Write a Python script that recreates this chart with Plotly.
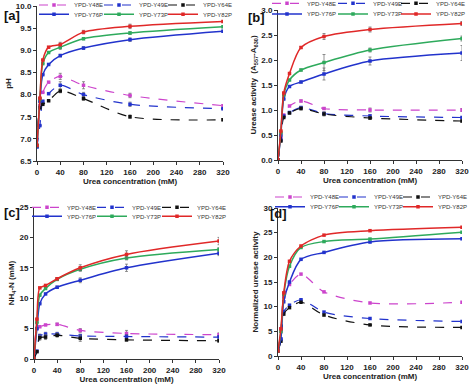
import plotly.graph_objects as go

urea_mM = [0, 5, 10, 20, 40, 80, 160, 320]
x_ticks = [0, 40, 80, 120, 160, 200, 240, 280, 320]
series_names = ["YPD-Y48E", "YPD-Y49E", "YPD-Y64E", "YPD-Y76P", "YPD-Y73P", "YPD-Y82P"]

# Panel a: pH
ph_Y48E = [6.85, 7.75, 8.05, 8.28, 8.41, 8.21, 7.98, 7.75]
ph_Y49E = [6.82, 7.30, 7.85, 8.02, 8.21, 8.00, 7.78, 7.68]
ph_Y64E = [6.85, 7.70, 7.78, 7.86, 8.08, 7.91, 7.50, 7.43]
ph_Y76P = [6.82, 7.85, 8.45, 8.68, 8.88, 9.05, 9.24, 9.43]
ph_Y73P = [6.85, 7.90, 8.70, 8.95, 9.07, 9.26, 9.39, 9.53]
ph_Y82P = [6.85, 7.92, 8.78, 9.07, 9.13, 9.41, 9.54, 9.65]
ph_err_Y48E = [0, 0, 0, 0, 0.07, 0.08, 0.05, 0.02]
ph_err_Y49E = [0, 0, 0, 0, 0.08, 0.05, 0.05, 0.02]
ph_err_Y64E = [0, 0, 0, 0, 0.04, 0.04, 0.04, 0.02]
ph_err_Y76P = [0, 0, 0, 0, 0.03, 0.03, 0.04, 0.02]
ph_err_Y73P = [0, 0, 0, 0, 0.05, 0.02, 0.03, 0.02]
ph_err_Y82P = [0, 0, 0, 0, 0.05, 0.04, 0.05, 0.02]

# Panel b: urease activity (A557-A630)
ua_Y48E = [0.0, 0.45, 0.90, 1.08, 1.18, 1.03, 1.00, 1.00]
ua_Y49E = [0.0, 0.40, 0.88, 0.95, 1.05, 0.93, 0.88, 0.85]
ua_Y64E = [0.0, 0.38, 0.85, 0.94, 1.03, 0.92, 0.84, 0.78]
ua_Y76P = [0.0, 0.50, 1.22, 1.47, 1.56, 1.72, 1.98, 2.14]
ua_Y73P = [0.0, 0.55, 1.30, 1.60, 1.80, 1.95, 2.20, 2.43]
ua_Y82P = [0.0, 0.58, 1.34, 1.73, 2.25, 2.47, 2.61, 2.73]
ua_err_Y48E = [0, 0, 0, 0, 0.02, 0.02, 0.04, 0.03]
ua_err_Y49E = [0, 0, 0, 0, 0.02, 0.03, 0.03, 0.02]
ua_err_Y64E = [0, 0, 0, 0, 0.03, 0.04, 0.03, 0.02]
ua_err_Y76P = [0, 0, 0, 0, 0.02, 0.12, 0.08, 0.15]
ua_err_Y73P = [0, 0, 0, 0, 0.02, 0.16, 0.04, 0.05]
ua_err_Y82P = [0, 0, 0, 0, 0.02, 0.06, 0.05, 0.04]

# Panel c: NH4-N (mM)
nh_Y48E = [0.0, 5.0, 5.3, 5.6, 5.7, 4.7, 4.2, 4.0]
nh_Y49E = [0.0, 1.3, 3.8, 4.1, 4.1, 3.8, 3.7, 3.6]
nh_Y64E = [0.0, 1.2, 3.5, 3.6, 3.9, 3.4, 3.15, 3.0]
nh_Y76P = [0.0, 5.0, 9.1, 10.7, 11.8, 12.95, 15.0, 17.4]
nh_Y73P = [0.0, 6.0, 10.5, 11.6, 13.1, 14.75, 16.6, 18.0]
nh_Y82P = [0.0, 6.55, 11.7, 12.1, 13.2, 15.0, 17.2, 19.4]
nh_err_Y48E = [0, 0, 0, 0, 0.2, 0.3, 0.5, 0.3]
nh_err_Y49E = [0, 0, 0.3, 0.3, 0.3, 0.3, 0.3, 0.2]
nh_err_Y64E = [0, 0, 0.4, 0.4, 0.3, 0.5, 0.2, 0.2]
nh_err_Y76P = [0, 0, 0, 0, 0.2, 0.4, 0.6, 0.4]
nh_err_Y73P = [0, 0, 0, 0, 0.2, 0.3, 0.3, 0.3]
nh_err_Y82P = [0, 0, 0, 0, 0.2, 0.5, 0.6, 0.6]

# Panel d: normalized urease activity
nu_Y48E = [1.0, 5.5, 12.0, 14.5, 16.6, 13.0, 10.75, 10.9]
nu_Y49E = [1.0, 3.3, 9.0, 10.3, 11.4, 8.9, 7.6, 7.0]
nu_Y64E = [1.0, 3.0, 8.5, 9.8, 10.9, 8.3, 6.3, 5.8]
nu_Y76P = [1.0, 3.5, 11.0, 15.0, 19.6, 21.0, 23.1, 23.75]
nu_Y73P = [1.0, 5.0, 12.5, 18.2, 22.0, 23.2, 23.7, 25.1]
nu_Y82P = [1.0, 5.5, 12.8, 19.2, 22.3, 24.5, 25.4, 26.1]

colors = ["#CC44CC", "#2233CC", "#111111", "#2233CC", "#2EAA5C", "#E02828"]
dashes = ["dash", "dash", "dash", "solid", "solid", "solid"]
widths = [1.2, 1.2, 1.2, 1.5, 1.5, 1.5]
rows = [0, 0, 0, 1, 1, 1]
cols = [0, 1, 2, 0, 1, 2]

W, H = 474, 384
panels = [
    dict(key="a", vals=[ph_Y48E, ph_Y49E, ph_Y64E, ph_Y76P, ph_Y73P, ph_Y82P],
         errs=[ph_err_Y48E, ph_err_Y49E, ph_err_Y64E, ph_err_Y76P, ph_err_Y73P, ph_err_Y82P],
         yrange=[6.5, 10], dtick=0.5, fmt=".1f", ytitle="pH",
         px=(37, 223), py=(6, 161), leg_tx=(72, 137, 201), leg_y=(5, 14.3), lab=(2, 6)),
    dict(key="b", vals=[ua_Y48E, ua_Y49E, ua_Y64E, ua_Y76P, ua_Y73P, ua_Y82P],
         errs=[ua_err_Y48E, ua_err_Y49E, ua_err_Y64E, ua_err_Y76P, ua_err_Y73P, ua_err_Y82P],
         yrange=[0, 3], dtick=0.5, fmt=".1f",
         ytitle="Urease activity  (A<sub>557</sub>-A<sub>630</sub>)",
         px=(278, 462), py=(10, 160), leg_tx=(305, 371, 434), leg_y=(3.3, 14), lab=(246, 8)),
    dict(key="c", vals=[nh_Y48E, nh_Y49E, nh_Y64E, nh_Y76P, nh_Y73P, nh_Y82P],
         errs=[nh_err_Y48E, nh_err_Y49E, nh_err_Y64E, nh_err_Y76P, nh_err_Y73P, nh_err_Y82P],
         yrange=[0, 25], dtick=5, fmt="d", ytitle="NH<sub>4</sub>-N (mM)",
         px=(34, 219), py=(207, 359), leg_tx=(65, 130, 195), leg_y=(207.3, 216.3), lab=(2, 203)),
    dict(key="d", vals=[nu_Y48E, nu_Y49E, nu_Y64E, nu_Y76P, nu_Y73P, nu_Y82P],
         errs=None,
         yrange=[0, 30], dtick=5, fmt="d", ytitle="Normalized urease activity",
         px=(278, 462), py=(208, 356), leg_tx=(308, 372, 436), leg_y=(197, 206.7), lab=(268, 204)),
]

fig = go.Figure()
layout = dict(width=W, height=H, margin=dict(l=0, r=0, t=0, b=0, autoexpand=False),
              paper_bgcolor="white", plot_bgcolor="white", annotations=[], showlegend=True)
font_t = dict(family="Liberation Sans", size=8, color="#222", weight="bold")

leg_count = 0
for i, p in enumerate(panels):
    n = "" if i == 0 else str(i + 1)
    xa, ya = "x" + n, "y" + n
    for j, name in enumerate(series_names):
        leg_count += 1
        lid = "legend" if leg_count == 1 else "legend" + str(leg_count)
        layout[lid] = dict(orientation="h", x=(p["leg_tx"][cols[j]] - 38) / W,
                           y=1 - (p["leg_y"][rows[j]] - 14.5) / H,
                           xanchor="left", yanchor="top", itemwidth=30,
                           font=dict(family="Liberation Sans", size=6, color="#333"),
                           bgcolor="rgba(0,0,0,0)")
        err = None
        if p["errs"] is not None:
            err = dict(type="data", array=p["errs"][j], visible=True,
                       color="#666", thickness=0.7, width=1.5)
        fig.add_trace(go.Scatter(
            x=urea_mM, y=p["vals"][j], name=name, mode="lines+markers",
            line=dict(color=colors[j], dash=dashes[j], width=widths[j],
                      shape="spline", smoothing=0.8),
            marker=dict(color=colors[j], size=3.5, symbol="square"),
            error_y=err, xaxis=xa, yaxis=ya, legend=lid,
        ))
    xdom = [p["px"][0] / W, p["px"][1] / W]
    ydom = [1 - p["py"][1] / H, 1 - p["py"][0] / H]
    layout["xaxis" + n] = dict(domain=xdom, anchor=ya, range=[0, 320], tickvals=x_ticks,
                               showgrid=False, zeroline=False, showline=True, linecolor="#333",
                               linewidth=1, ticks="outside", ticklen=3, tickcolor="#333",
                               tickfont=font_t, ticklabeloverflow="allow",
                               title=dict(text="Urea concentration (mM)", font=font_t, standoff=2))
    layout["yaxis" + n] = dict(domain=ydom, anchor=xa, range=p["yrange"], dtick=p["dtick"],
                               tickformat=p["fmt"], showgrid=False, zeroline=False, showline=True,
                               linecolor="#333", linewidth=1, ticks="outside", ticklen=3,
                               tickcolor="#333", tickfont=font_t, ticklabeloverflow="allow",
                               title=dict(text=p["ytitle"], font=font_t, standoff=3))
    layout["annotations"].append(dict(text="[" + p["key"] + "]", xref="paper", yref="paper",
                                      x=p["lab"][0] / W, y=1 - p["lab"][1] / H,
                                      xanchor="left", yanchor="top", showarrow=False,
                                      font=dict(family="Liberation Sans", size=13, color="#111",
                                                weight="bold")))

fig.update_layout(**layout)
fig.write_html("out.html", config={"displayModeBar": False},
               post_script="document.body.style.margin='0px';document.body.style.overflow='hidden';")
